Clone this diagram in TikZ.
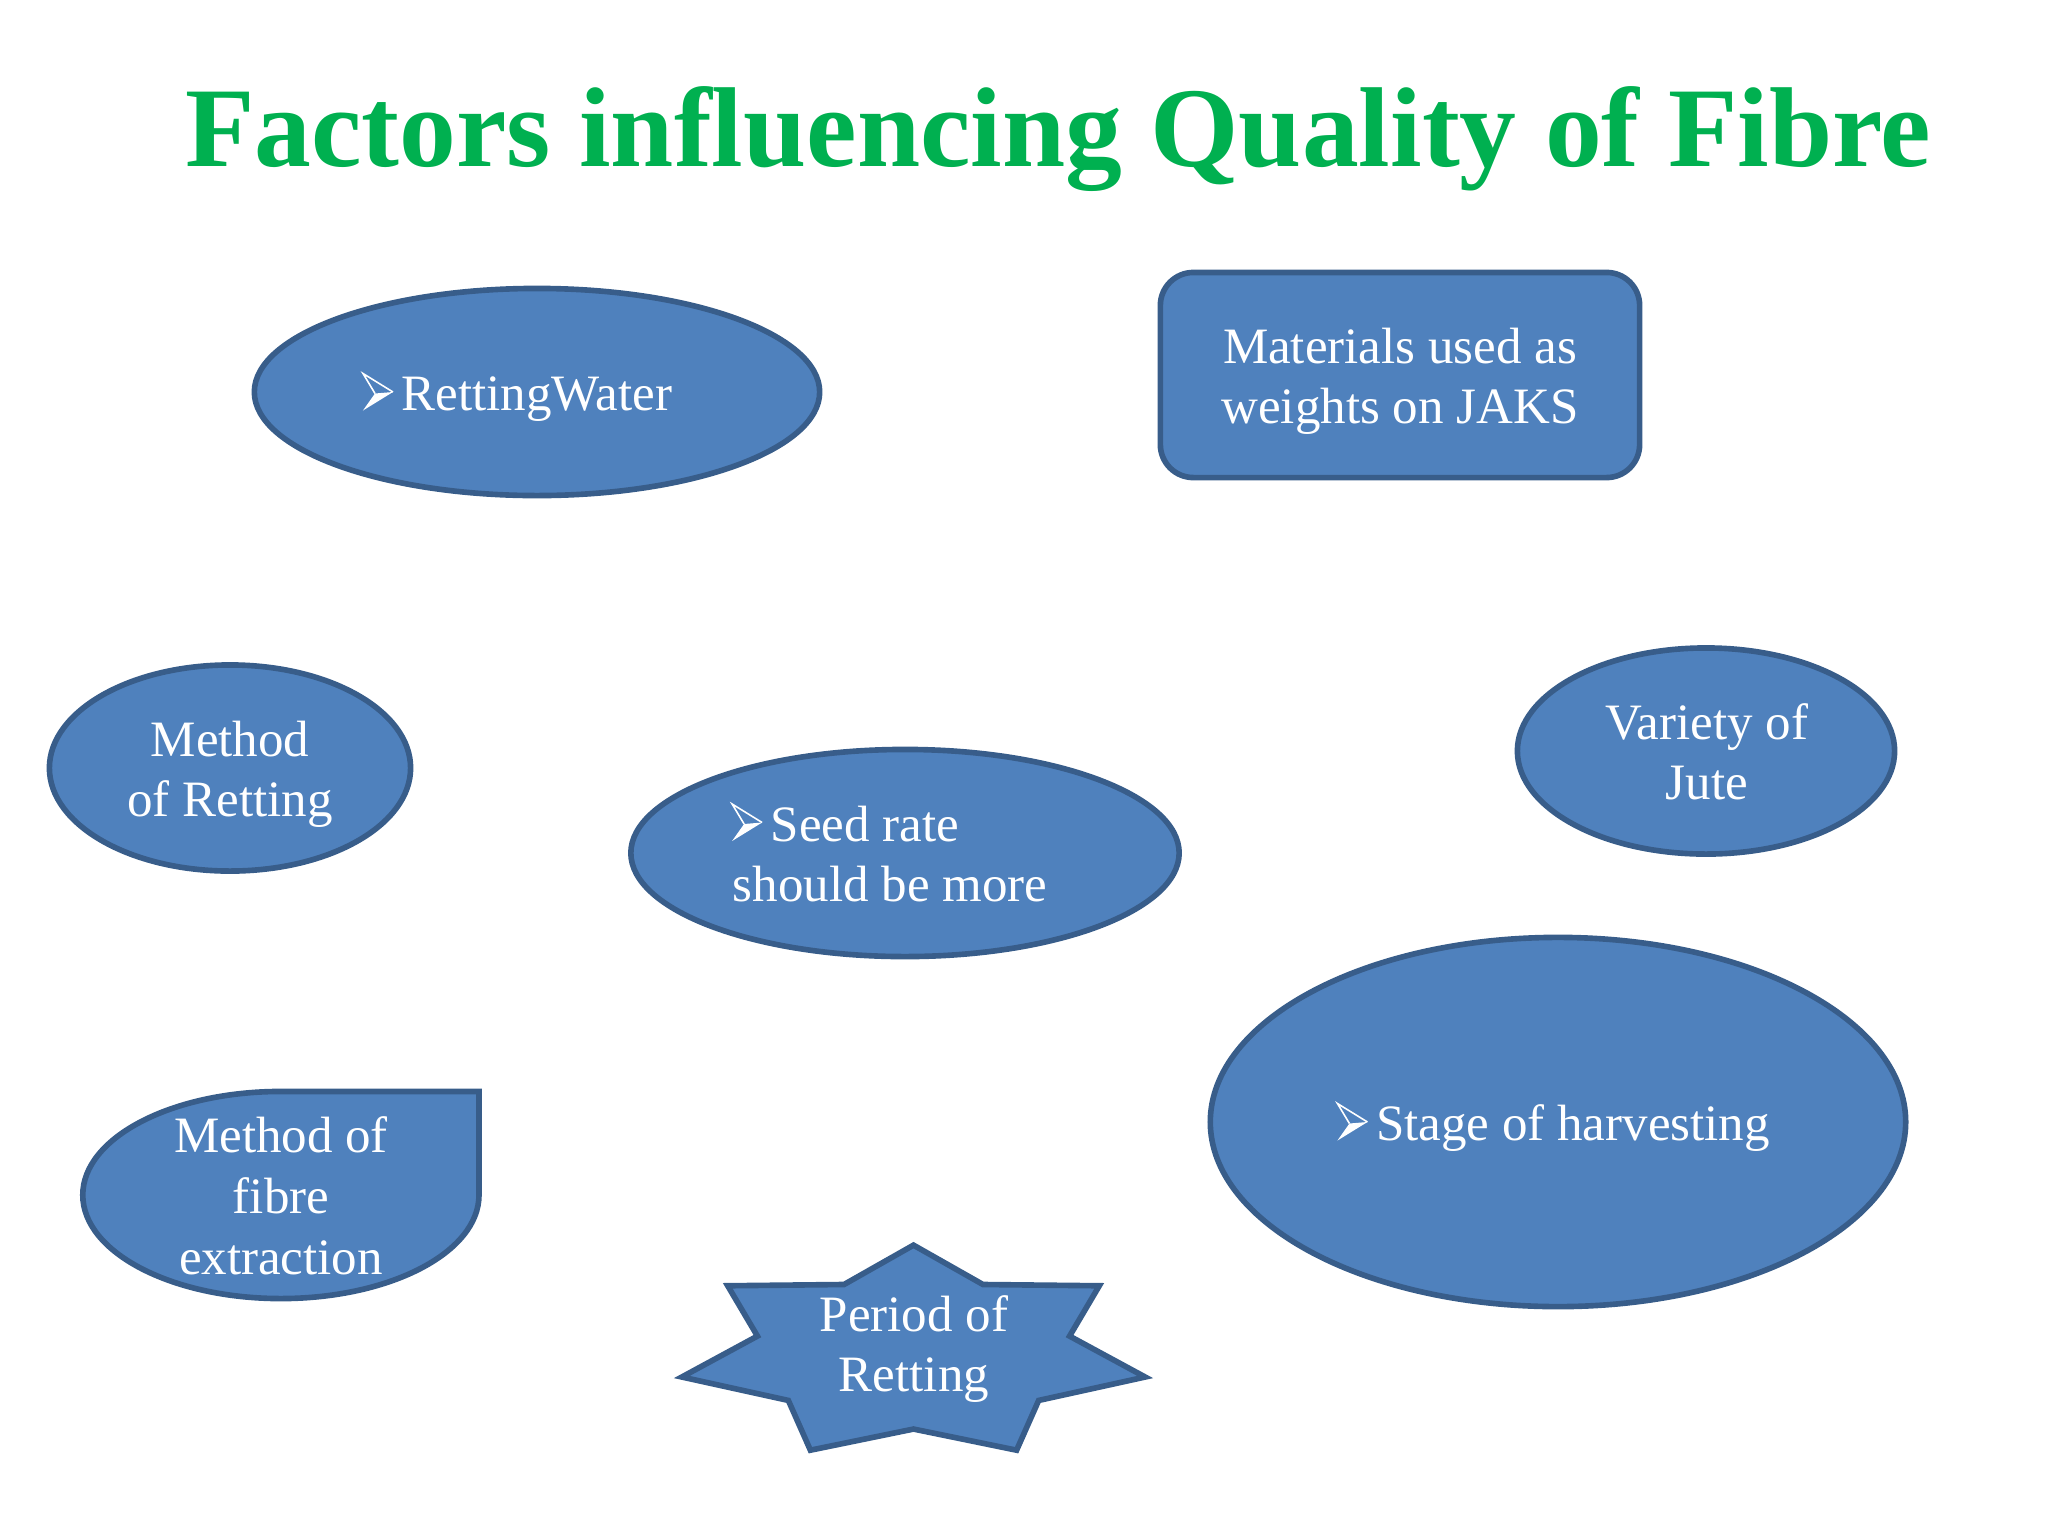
\documentclass[tikz,border=0pt]{standalone}
\usepackage{fontspec}
\setmainfont{Liberation Serif}
\usetikzlibrary{shapes.geometric}

\definecolor{titlegreen}{RGB}{0,176,80}
\definecolor{shapefill}{RGB}{79,129,189}
\definecolor{shapeline}{RGB}{56,93,138}

% room for the arrowhead bullet
\newcommand{\bulgap}{\kern0.38cm}
\newcommand{\txtstack}[2][c]{\begin{tabular}[t]{@{}#1@{}}#2\end{tabular}}

\tikzset{
  factor/.style={draw=shapeline, fill=shapefill, line width=1.6pt, inner sep=0pt},
  oval/.style={factor, ellipse},
  whitetext/.style={text=white, inner sep=0pt, anchor=base,
    font=\fontsize{14.5}{17.3}\selectfont},
  bularrow/.pic={
    \fill[white] (12,-17) -- (30,-18.5) -- (0,0) -- cycle;
    \draw[white, line width=0.45pt, line join=miter] (12,-17) -- (0,-37) -- (30,-18.5);
  }
}

\begin{document}
\begin{tikzpicture}[x=0.01cm, y=-0.01cm]
    \useasboundingbox (0,0) rectangle (2048,1536);

    \node[anchor=base, text=titlegreen, font=\bfseries\fontsize{32.3}{38}\selectfont] (title) at (1058,166) {Factors influencing Quality of Fibre};

    % the shapes
    \node[oval, minimum width=5.65cm, minimum height=2.07cm] (water) at (537,392) {};
    \node[factor, rounded corners=0.33cm, minimum width=4.79cm, minimum height=2.05cm] (jaks) at (1400,375) {};
    \node[oval, minimum width=3.61cm, minimum height=2.06cm] (method) at (230,768) {};
    \node[oval, minimum width=5.48cm, minimum height=2.07cm] (seed) at (905,853) {};
    \node[oval, minimum width=3.77cm, minimum height=2.06cm] (variety) at (1706,751) {};
    \node[oval, minimum width=6.95cm, minimum height=3.69cm] (stage) at (1558,1122) {};

    % ellipse with one square corner
    \draw[factor] (281,1091.5) -- (479,1091.5) -- (479,1195)
      arc[start angle=0, end angle=-90, x radius=1.98cm, y radius=1.035cm]
      arc[start angle=-90, end angle=-180, x radius=1.98cm, y radius=1.035cm]
      arc[start angle=180, end angle=90, x radius=1.98cm, y radius=1.035cm] -- cycle;

    % seven point star
    \begin{scope}[shift={(913.5,1353)}]
      \draw[factor] plot[samples at={0,...,13}]
        ({90+\x*25.714}:{(2.375-0.775*mod(\x,2))*1cm} and {(1.078-0.318*mod(\x,2))*1cm}) -- cycle;
    \end{scope}

    % the texts, placed on the baseline of their first line
    \node[whitetext] (watertext) at (518,410.5) {\bulgap RettingWater};
    \node[whitetext] (jakstext) at (1400,363) {\txtstack{Materials used as\\weights on JAKS}};
    \node[whitetext] (methodtext) at (230,756) {\txtstack{Method\\of Retting}};
    \node[whitetext] (seedtext) at (890,841) {\txtstack[l]{\bulgap Seed rate\\should be more}};
    \node[whitetext] (varietytext) at (1707,739) {\txtstack{Variety of\\Jute}};
    \node[whitetext] (stagetext) at (1554,1140.5) {\bulgap Stage of harvesting};
    \node[whitetext] (extraction) at (281,1152.5) {\txtstack{Method of\\fibre\\extraction}};
    \node[whitetext] (period) at (914,1331) {\txtstack{Period of\\Retting}};

    % arrowhead bullets
    \pic at (watertext.base west) {bularrow};
    \pic at (seedtext.base west) {bularrow};
    \pic at (stagetext.base west) {bularrow};
\end{tikzpicture}
\end{document}
